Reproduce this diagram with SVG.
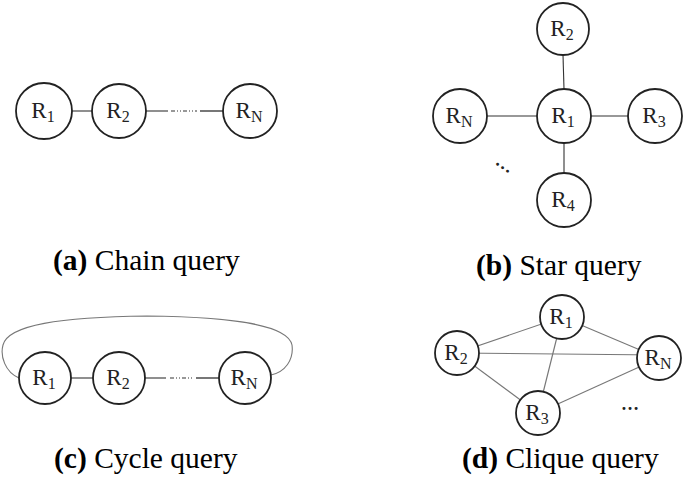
<svg xmlns="http://www.w3.org/2000/svg" width="685" height="479" viewBox="0 0 685 479">
<style>
.n{fill:#fff;stroke:#222;stroke-width:1.8}
.e{stroke:#333;stroke-width:1.1;fill:none}
.g{stroke:#777;stroke-width:1.1;fill:none}
.lb{font-family:'Liberation Serif','Times New Roman',serif;font-size:23px;fill:#222;text-anchor:middle}
.sb{font-size:16px}
.cap{font-family:'Liberation Serif','Times New Roman',serif;font-size:29.5px;fill:#000}
.b{font-weight:bold}
.dots{font-family:'Liberation Serif','Times New Roman',serif;fill:#222;text-anchor:middle;font-weight:bold}
</style>
<rect width="685" height="479" fill="#fff"/>
<g id="connectors">
<line class="e" x1="72" y1="111" x2="92" y2="111"/>
<line class="e" x1="146" y1="111" x2="168" y2="111"/>
<line class="e" x1="171" y1="111" x2="197" y2="111" stroke-dasharray="4 2 1 2 1 2"/>
<line x1="200" y1="111" x2="223" y2="111" stroke="#777" stroke-width="2"/>
<line class="e" x1="563" y1="55" x2="564" y2="89"/>
<line class="e" x1="487" y1="116" x2="537" y2="116"/>
<line class="e" x1="591" y1="116" x2="628" y2="116"/>
<line class="e" x1="564" y1="143" x2="564" y2="173"/>
<line class="e" x1="71" y1="378" x2="93" y2="378"/>
<line class="e" x1="145" y1="378" x2="166" y2="378"/>
<line class="e" x1="170" y1="378" x2="193" y2="378" stroke-dasharray="4 2 1 2 1 2"/>
<line x1="196" y1="378" x2="219" y2="378" stroke="#777" stroke-width="2"/>
<path class="g" d="M19,378 C5,372 0,356 3,345 C8,325 60,317 147,316 C235,317 288,325 292,345 C294,360 285,372 271,375"/>
<line class="g" x1="562" y1="317" x2="457" y2="353"/>
<line class="g" x1="562" y1="317" x2="659" y2="358"/>
<line class="g" x1="562" y1="317" x2="538" y2="413"/>
<line class="g" x1="457" y1="353" x2="659" y2="355"/>
<line class="g" x1="457" y1="353" x2="538" y2="413"/>
<line class="g" x1="538" y1="413" x2="659" y2="358"/>
</g>
<g id="a-R1"><circle class="n" cx="44" cy="111" r="28"/><text class="lb" x="43" y="118">R<tspan class="sb" dy="4">1</tspan></text></g>
<g id="a-R2"><circle class="n" cx="119" cy="111" r="27"/><text class="lb" x="118" y="118">R<tspan class="sb" dy="4">2</tspan></text></g>
<g id="a-RN"><circle class="n" cx="250" cy="111" r="27"/><text class="lb" x="249" y="118">R<tspan class="sb" dy="4">N</tspan></text></g>
<g id="b-R2"><circle class="n" cx="563" cy="29" r="26"/><text class="lb" x="562" y="36">R<tspan class="sb" dy="4">2</tspan></text></g>
<g id="b-R1"><circle class="n" cx="564" cy="116" r="27"/><text class="lb" x="563" y="123">R<tspan class="sb" dy="4">1</tspan></text></g>
<g id="b-RN"><circle class="n" cx="460" cy="116" r="27"/><text class="lb" x="459" y="123">R<tspan class="sb" dy="4">N</tspan></text></g>
<g id="b-R3"><circle class="n" cx="655" cy="116" r="27"/><text class="lb" x="654" y="123">R<tspan class="sb" dy="4">3</tspan></text></g>
<g id="b-R4"><circle class="n" cx="564" cy="200" r="27"/><text class="lb" x="563" y="207">R<tspan class="sb" dy="4">4</tspan></text></g>
<text class="dots" font-size="18" transform="translate(503,167) rotate(35)" x="0" y="2">…</text>
<g id="c-R1"><circle class="n" cx="45" cy="378" r="26"/><text class="lb" x="44" y="385">R<tspan class="sb" dy="4">1</tspan></text></g>
<g id="c-R2"><circle class="n" cx="119" cy="378" r="26"/><text class="lb" x="118" y="385">R<tspan class="sb" dy="4">2</tspan></text></g>
<g id="c-RN"><circle class="n" cx="245" cy="378" r="26"/><text class="lb" x="244" y="385">R<tspan class="sb" dy="4">N</tspan></text></g>
<g id="d-R1"><circle class="n" cx="562" cy="317" r="22"/><text class="lb" x="561" y="324">R<tspan class="sb" dy="4">1</tspan></text></g>
<g id="d-R2"><circle class="n" cx="457" cy="353" r="22"/><text class="lb" x="456" y="360">R<tspan class="sb" dy="4">2</tspan></text></g>
<g id="d-RN"><circle class="n" cx="659" cy="358" r="22"/><text class="lb" x="658" y="365">R<tspan class="sb" dy="4">N</tspan></text></g>
<g id="d-R3"><circle class="n" cx="538" cy="413" r="22"/><text class="lb" x="537" y="420">R<tspan class="sb" dy="4">3</tspan></text></g>
<text class="dots" font-size="18" x="630" y="410">…</text>
<text class="cap" font-family="Liberation Serif, Times New Roman, serif" x="53" y="270"><tspan class="b">(a)</tspan> Chain query</text>
<text class="cap" font-family="Liberation Serif, Times New Roman, serif" x="476" y="275"><tspan class="b">(b)</tspan> Star query</text>
<text class="cap" font-family="Liberation Serif, Times New Roman, serif" x="54" y="468"><tspan class="b">(c)</tspan> Cycle query</text>
<text class="cap" font-family="Liberation Serif, Times New Roman, serif" x="462" y="468"><tspan class="b">(d)</tspan> Clique query</text>
</svg>
